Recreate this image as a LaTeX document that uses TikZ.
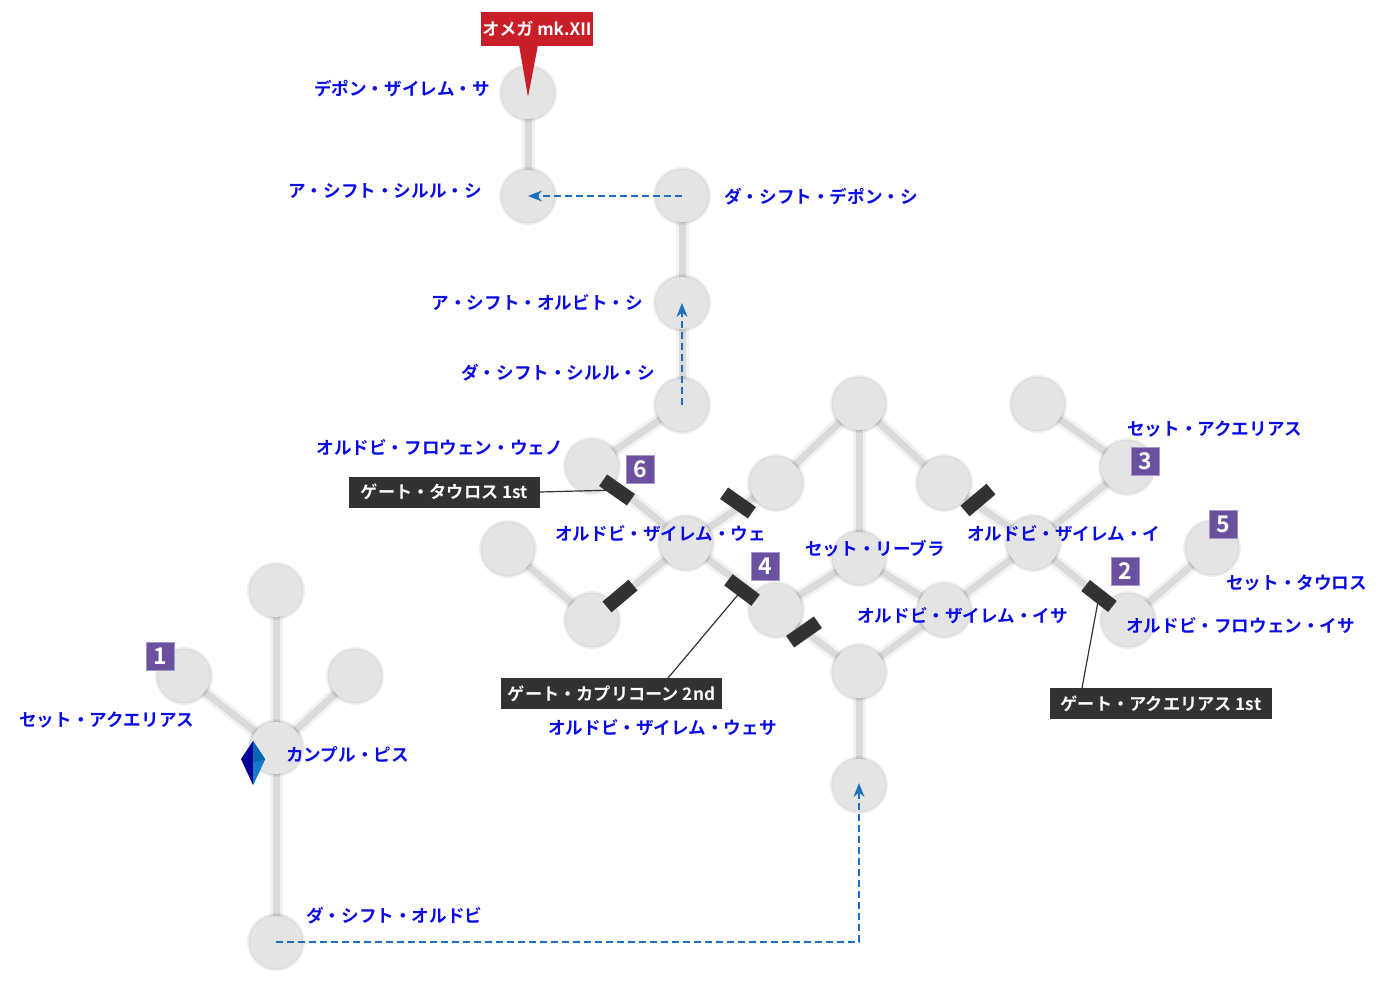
\documentclass[tikz,border=0pt]{standalone}
\usepackage{fontspec}
\setmainfont{Noto Sans CJK JP}[BoldFont={Noto Sans CJK JP Bold}]
\usetikzlibrary{arrows.meta}
\definecolor{lbl}{RGB}{10,10,230}
\definecolor{nodefill}{RGB}{228,228,228}
\definecolor{edgec}{RGB}{218,218,218}
\definecolor{gatec}{RGB}{50,50,50}
\definecolor{badge}{RGB}{108,80,160}
\definecolor{dashc}{RGB}{30,110,190}
\definecolor{omega}{RGB}{200,30,40}
\begin{document}
\begin{tikzpicture}[x=1pt,y=-1pt,
  every node/.style={inner sep=0pt},
  nd/.style={circle,minimum size=52pt,fill=nodefill},
  ndsh/.style={circle,minimum size=58pt,fill=black,opacity=0.06},
  ndsh2/.style={circle,minimum size=55pt,fill=black,opacity=0.08},
  edsh/.style={line width=13pt,black,opacity=0.05},
  ed/.style={line width=7pt,edgec},
  lab/.style={text=lbl,font=\bfseries\fontsize{17.6}{18}\selectfont},
  gate/.style={fill=gatec,minimum width=34pt,minimum height=14pt},
  gbox/.style={fill=gatec,text=white,font=\bfseries\fontsize{17.2}{18}\selectfont,minimum height=31pt},
  bdg/.style={fill=badge,draw=badge!60!white,line width=1pt,text=white,font=\bfseries\fontsize{23}{23}\selectfont,minimum size=28pt},
  dl/.style={draw=dashc,line width=1.3pt,dash pattern=on 7pt off 4pt},
  dtip/.style={-{Stealth[length=14pt,width=11pt]}}]
\useasboundingbox (0,0) rectangle (1384,1000);
% node coordinates
\coordinate (a1) at (528,93);
\coordinate (a2) at (528,196);
\coordinate (a3) at (682,196);
\coordinate (a4) at (682,303);
\coordinate (a5) at (682,405);
\coordinate (a6) at (592,466);
\coordinate (w) at (686,543);
\coordinate (wur) at (776,483);
\coordinate (wl) at (508,549);
\coordinate (wll) at (592,620);
\coordinate (w4) at (776,610);
\coordinate (c) at (859,404);
\coordinate (r) at (859,558);
\coordinate (bt) at (859,672);
\coordinate (d) at (859,785);
\coordinate (e1) at (944,483);
\coordinate (i) at (1033,543);
\coordinate (is) at (944,610);
\coordinate (t3) at (1038,404);
\coordinate (n3) at (1127,467);
\coordinate (n2) at (1128,620);
\coordinate (n5) at (1212,548);
\coordinate (k) at (276,748);
\coordinate (kt) at (276,591);
\coordinate (kl) at (184,676);
\coordinate (kr) at (355,676);
\coordinate (kb) at (276,942);
% edges
\foreach \p/\q in {a1/a2,a3/a4,a4/a5,a5/a6,a6/w,w/wur,w/wll,wll/wl,w/w4,c/wur,c/r,c/e1,e1/i,i/n3,n3/t3,i/is,is/r,is/bt,r/w4,w4/bt,i/n2,n2/n5,bt/d,k/kt,k/kl,k/kr,k/kb}{
  \draw[edsh] (\p) -- (\q);}
\foreach \p/\q in {a1/a2,a3/a4,a4/a5,a5/a6,a6/w,w/wur,w/wll,wll/wl,w/w4,c/wur,c/r,c/e1,e1/i,i/n3,n3/t3,i/is,is/r,is/bt,r/w4,w4/bt,i/n2,n2/n5,bt/d,k/kt,k/kl,k/kr,k/kb}{
  \draw[ed] (\p) -- (\q);}
% circles
\foreach \n in {a1,a2,a3,a4,a5,a6,w,wur,wl,wll,w4,c,r,bt,d,e1,i,is,t3,n3,n2,n5,k,kt,kl,kr,kb}{
  \node[ndsh] at (\n) {}; \node[ndsh2] at (\n) {};}
\foreach \n in {a1,a2,a3,a4,a5,a6,w,wur,wl,wll,w4,c,r,bt,d,e1,i,is,t3,n3,n2,n5,k,kt,kl,kr,kb}{
  \node[nd] (N\n) at (\n) {};}
% dashed arrows
\draw[dl,dtip] (Na3.center) -- (Na2.center);
\draw[dl,dtip] (Na5.center) -- (Na4.center);
\coordinate (corner) at (859,942);
\draw[dl,dtip] (Nkb.center) -- (corner) -- ([yshift=2pt]Nd.center);
% gates
\node[gate,rotate=-35] (g1) at (617,490) {};
\node[gate,rotate=-35] (g2) at (738,503) {};
\node[gate,rotate=40] (g3) at (620,596) {};
\node[gate,rotate=-37] (g4) at (742,590) {};
\node[gate,rotate=35] (g5) at (804,632) {};
\node[gate,rotate=40] (g6) at (978,500) {};
\node[gate,rotate=-38] (g7) at (1099,596) {};
% gate labels
\node[gbox,minimum width=191pt] (gl1) at (444.5,492) {ゲート・タウロス 1st};
\node[gbox,minimum width=221pt] (gl2) at (611.5,693.5) {ゲート・カプリコーン 2nd};
\node[gbox,minimum width=222pt] (gl3) at (1161,703.5) {ゲート・アクエリアス 1st};
\draw[line width=1.2pt,gatec] (gl1.east) -- (g1.center);
\coordinate (gl2a) at (668,678);
\draw[line width=1.2pt,gatec] (gl2a) -- (g4.center);
\coordinate (gl3a) at (1082,688);
\draw[line width=1.2pt,gatec] (gl3a) -- (g7.center);
% badges
\node[bdg] (b1) at (160,656) {1};
\node[bdg] (b6) at (640,469) {6};
\node[bdg] (b3) at (1145,461) {3};
\node[bdg] (b4) at (765,566) {4};
\node[bdg] (b2) at (1125,571) {2};
\node[bdg] (b5) at (1223,524) {5};
% omega callout
\node[fill=omega,text=white,font=\bfseries\fontsize{17}{17}\selectfont,minimum width=112pt,minimum height=34pt] (om) at (537,29) {オメガ mk.XII};
\coordinate (omp) at (528,97);
\fill[omega] (519,45) -- (omp) -- (538,45) -- cycle;
% crystal
\coordinate (cr) at (253,763);
\fill[blue!60!black] (cr) ++(0,-22) -- ++(12,18) -- ++(-12,26) -- ++(-12,-26) -- cycle;
\fill[blue!40!cyan!70!black] (cr) ++(0,-22) -- ++(12,18) -- ++(-12,4) -- cycle;
\fill[cyan!60!blue] (cr) ++(0,0) -- ++(12,-4) -- ++(-12,26) -- cycle;
% labels
\node[lab,anchor=east] (L1) at (490,89) {デポン・ザイレム・サ};
\node[lab,anchor=east] (L2) at (482,191) {ア・シフト・シルル・シ};
\node[lab,anchor=west] (L3) at (724,197) {ダ・シフト・デポン・シ};
\node[lab,anchor=east] (L4) at (643,302) {ア・シフト・オルビト・シ};
\node[lab,anchor=east] (L5) at (655,373) {ダ・シフト・シルル・シ};
\node[lab,anchor=east] (L6) at (563,447) {オルドビ・フロウェン・ウェノ};
\node[lab,anchor=west] (L7) at (555,534) {オルドビ・ザイレム・ウェ};
\node[lab,anchor=west] (L8) at (805,549) {セット・リーブラ};
\node[lab,anchor=west] (L9) at (967,534) {オルドビ・ザイレム・イ};
\node[lab,anchor=west] (L10) at (1127,429) {セット・アクエリアス};
\node[lab,anchor=west] (L11) at (1226,583) {セット・タウロス};
\node[lab,anchor=west] (L12) at (857,616) {オルドビ・ザイレム・イサ};
\node[lab,anchor=west] (L13) at (1126,626) {オルドビ・フロウェン・イサ};
\node[lab,anchor=west] (L14) at (19,720) {セット・アクエリアス};
\node[lab,anchor=west] (L15) at (286,754) {カンプル・ピス};
\node[lab,anchor=west] (L16) at (548,728) {オルドビ・ザイレム・ウェサ};
\node[lab,anchor=west] (L17) at (306,916) {ダ・シフト・オルドビ};
\end{tikzpicture}
\end{document}
